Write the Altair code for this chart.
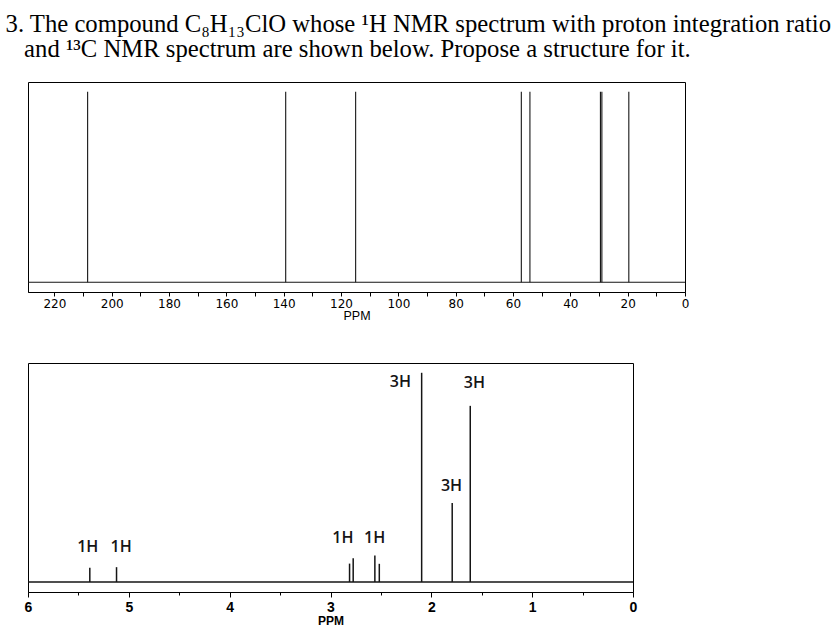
import altair as alt
import pandas as pd

# ---- 13C spectrum (ppm positions, relative heights) ----
c13_ppm = [208.4, 139.3, 114.9, 57.1, 54.1, 29.5, 29.0, 19.6]
c13_int = [1.0, 1.0, 1.0, 1.0, 1.0, 1.0, 1.0, 1.0]
c13_ticks = [0, 10, 20, 30, 40, 50, 60, 70, 80, 90, 100, 110, 120, 130, 140,
             150, 160, 170, 180, 190, 200, 210, 220]

# ---- 1H spectrum (ppm positions, relative heights) ----
h1_ppm = [5.387, 5.122, 2.811, 2.775, 2.560, 2.516, 2.096, 1.793, 1.614]
h1_int = [0.068, 0.071, 0.088, 0.114, 0.127, 0.087, 1.0, 0.378, 0.842]
h1_ticks = [0, 0.5, 1, 1.5, 2, 2.5, 3, 3.5, 4, 4.5, 5, 5.5, 6]

# ---- integration labels ----
lab_text = ["1H", "1H", "1H", "1H", "3H", "3H", "3H"]
lab_ppm = [5.407, 5.076, 2.877, 2.563, 2.307, 1.80, 1.573]
lab_y = [0.143, 0.143, 0.188, 0.188, 0.930, 0.435, 0.925]

title_lines = [
    "3. The compound C\u2088H\u2081\u2083ClO whose \u00b9H NMR spectrum with proton integration ratio",
    "\u200b\u00a0\u00a0\u00a0and \u00b9\u00b3C NMR spectrum are shown below. Propose a structure for it.",
]

INK = "#151515"

c13_df = pd.DataFrame({"ppm": c13_ppm, "intensity": c13_int})
h1_df = pd.DataFrame({"ppm": h1_ppm, "intensity": h1_int})
lab_df = pd.DataFrame({"ppm": lab_ppm, "y": lab_y, "text": lab_text})

# ---------- 13C panel ----------
x13 = alt.X(
    "ppm:Q",
    scale=alt.Scale(domain=[229.2, 0], nice=False, zero=False),
    axis=alt.Axis(
        values=c13_ticks,
        labelExpr="datum.value % 20 === 0 ? '' + datum.value : ''",
        title="PPM",
        tickSize=4,
        labelFont="DejaVu Sans",
        labelFontSize=12,
        labelPadding=2,
        labelFlush=False,
        labelOverlap=False,
        titleFont="Liberation Sans",
        titleFontSize=12.5,
        titleFontWeight="normal",
        titlePadding=0,
        grid=False,
    ),
)
y13_scale = alt.Scale(domain=[-0.051, 1.051], nice=False, zero=False)

c13_peaks = alt.Chart(c13_df).mark_rule(color=INK, strokeWidth=1.1).encode(
    x=x13,
    y=alt.Y("intensity:Q", scale=y13_scale, axis=None),
    y2=alt.Y2Datum(0),
)
c13_base = alt.Chart(c13_df).transform_aggregate(n="count()").mark_rule(
    color=INK, strokeWidth=1.1
).encode(y=alt.YDatum(0, scale=y13_scale, axis=None))

c13 = alt.layer(c13_base, c13_peaks).properties(width=657, height=210)

# ---------- 1H panel ----------
x1 = alt.X(
    "ppm:Q",
    scale=alt.Scale(domain=[6, 0], nice=False, zero=False),
    axis=alt.Axis(
        values=h1_ticks,
        labelExpr="datum.value % 1 === 0 ? '' + datum.value : ''",
        title="PPM",
        tickSize={"condition": {"test": "datum.value % 1 === 0", "value": 5}, "value": 3},
        labelFont="Liberation Sans",
        labelFontSize=14,
        labelFontWeight="bold",
        labelPadding=3,
        labelFlush=False,
        labelOverlap=False,
        titleFont="Liberation Sans",
        titleFontSize=12,
        titleFontWeight="bold",
        titlePadding=1,
        grid=False,
    ),
)
y1_scale = alt.Scale(domain=[-0.0477, 1.0468], nice=False, zero=False)

h1_peaks = alt.Chart(h1_df).mark_rule(color=INK, strokeWidth=1.5).encode(
    x=x1,
    y=alt.Y("intensity:Q", scale=y1_scale, axis=None),
    y2=alt.Y2Datum(0),
)
h1_base = alt.Chart(h1_df).transform_aggregate(n="count()").mark_rule(
    color=INK, strokeWidth=1.5
).encode(y=alt.YDatum(0, scale=y1_scale, axis=None))
h1_labels = alt.Chart(lab_df).mark_text(
    font="Open Sans", fontSize=16, fontWeight=600, color=INK,
    align="center", baseline="alphabetic",
).encode(
    x=alt.X("ppm:Q", scale=alt.Scale(domain=[6, 0], nice=False, zero=False)),
    y=alt.Y("y:Q", scale=y1_scale, axis=None),
    text="text:N",
)

h1 = alt.layer(h1_base, h1_peaks, h1_labels).properties(width=605, height=229)

chart = (
    alt.vconcat(c13, h1, spacing=40)
    .properties(
        padding={"left": 5, "top": 11, "right": 0, "bottom": 0},
        title=alt.TitleParams(
            text=title_lines,
            anchor="start",
            font="Liberation Serif",
            fontSize=24.7,
            fontWeight="normal",
            lineHeight=25,
            color="black",
            dx=-18,
            offset=20,
        ),
    )
    .configure_view(stroke="black", strokeWidth=1)
    .configure_axis(domainColor="black", tickColor="black", labelColor="black",
                    titleColor="black", domainWidth=1, tickWidth=1)
)

chart.save("out.html", embed_options={"renderer": "svg", "actions": False})
